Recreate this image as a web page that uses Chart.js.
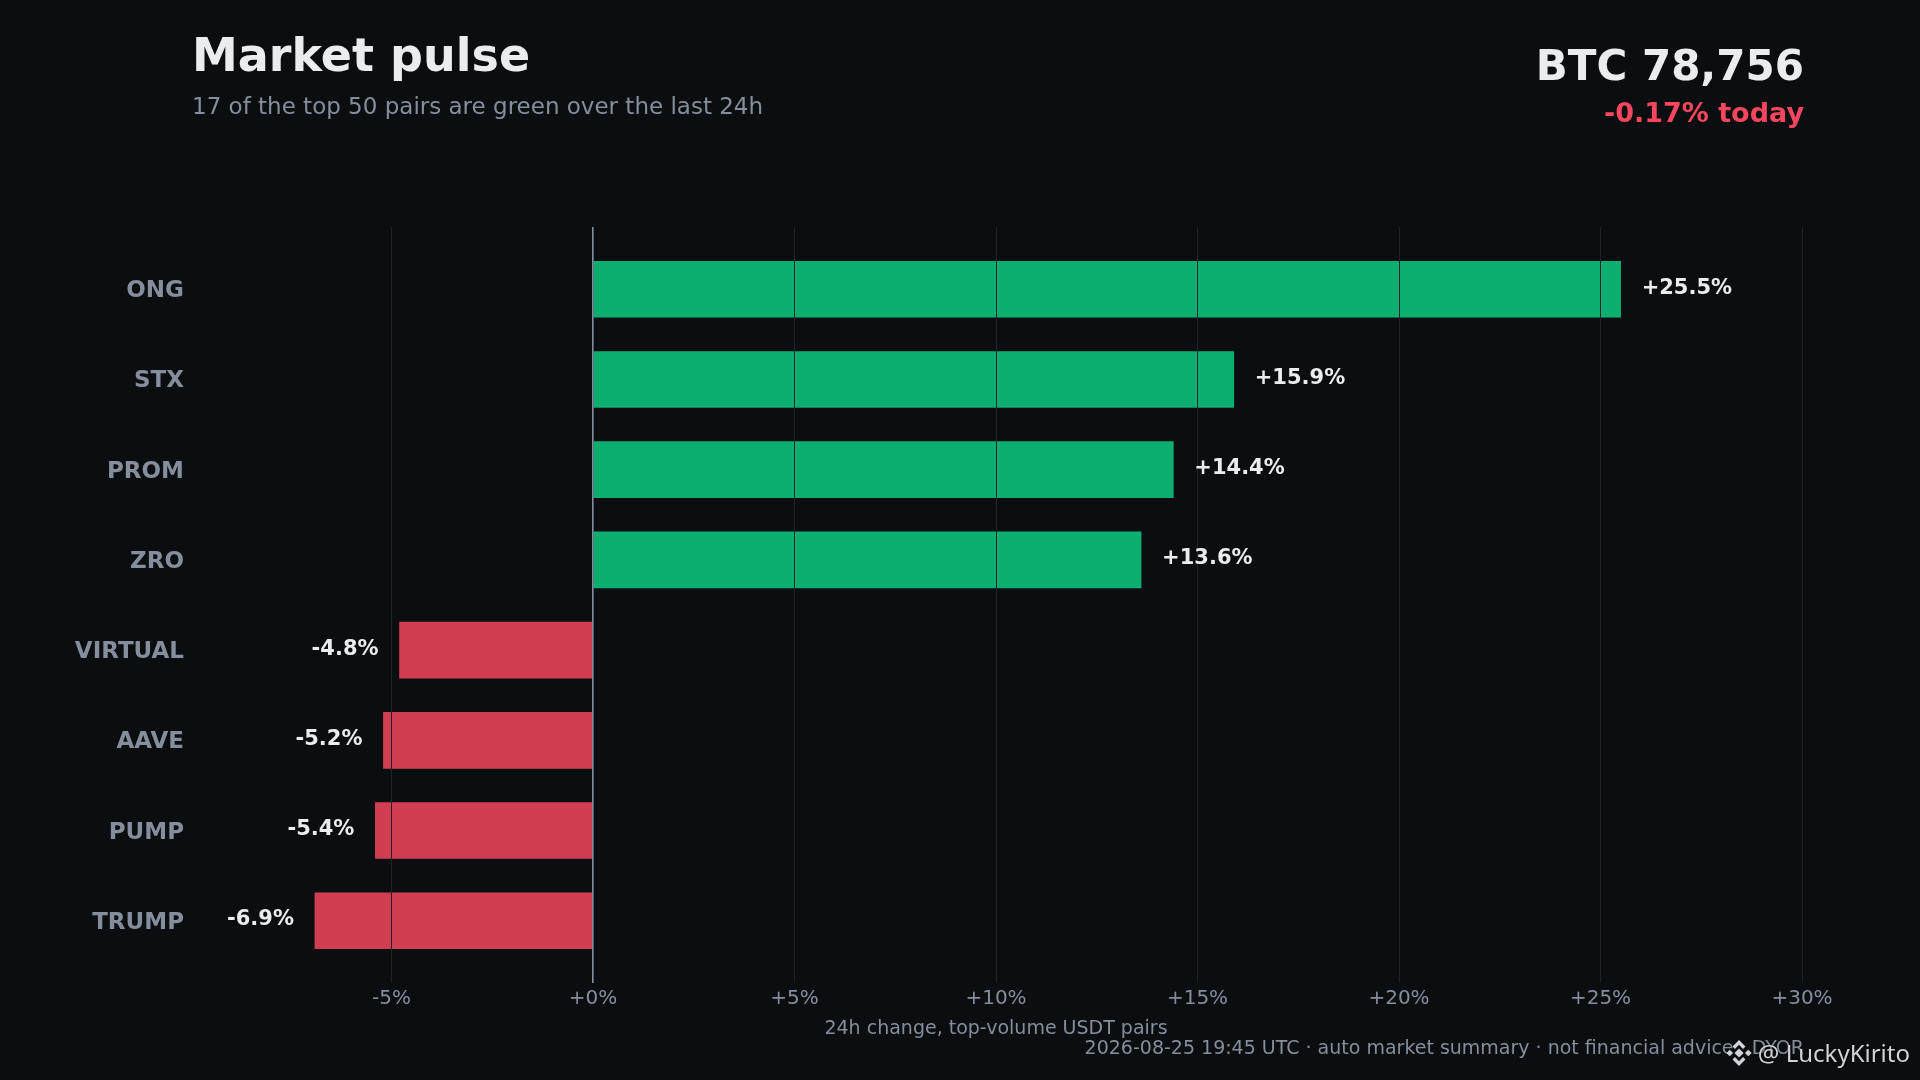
<!DOCTYPE html>
<html><head><meta charset="utf-8">
<script src="https://cdn.jsdelivr.net/npm/chart.js@4.4.1/dist/chart.umd.min.js"></script>
<style>
html,body{margin:0;padding:0;background:#0b0e11;}
#wrap{position:relative;width:1920px;height:1080px;background:#0b0e11;overflow:hidden;font-family:"DejaVu Sans",sans-serif;}
#c{position:absolute;left:0;top:0;width:1920px;height:1080px;}
.t{position:absolute;white-space:nowrap;}
</style></head><body>
<div id="wrap">
<canvas id="c" width="1920" height="1080"></canvas>
<div class="t" style="left:192px;top:27px;font-size:46px;line-height:56px;font-weight:bold;color:#eaecef;">Market pulse</div>
<div class="t" style="left:192px;top:92px;font-size:23px;line-height:28px;color:#848e9c;">17 of the top 50 pairs are green over the last 24h</div>
<div class="t" style="right:116px;top:41px;font-size:42px;line-height:50px;font-weight:bold;color:#eaecef;text-align:right;">BTC 78,756</div>
<div class="t" style="right:116px;top:96px;font-size:27px;line-height:33px;font-weight:bold;color:#f6465d;text-align:right;">-0.17% today</div>
<div class="t" style="right:116px;top:1036px;font-size:19px;line-height:22px;color:#848e9c;text-align:right;">2026-08-25 19:45 UTC · auto market summary · not financial advice · DYOR</div>
<div class="t" style="right:10px;top:1039px;font-size:24px;line-height:28px;color:#d0d4da;font-family:'Noto Sans',sans-serif;display:flex;align-items:center;gap:5px;text-shadow:0 0 2px #000;">
<svg width="28" height="28" viewBox="0 0 26 26"><g fill="#d0d4da"><rect x="10" y="10" width="6" height="6" transform="rotate(45 13 13)"/><path d="M13 1 L19 7 L16.8 9.2 L13 5.4 L9.2 9.2 L7 7 Z"/><path d="M13 25 L7 19 L9.2 16.8 L13 20.6 L16.8 16.8 L19 19 Z"/><rect x="2.2" y="10.8" width="4.4" height="4.4" transform="rotate(45 4.4 13)"/><rect x="19.4" y="10.8" width="4.4" height="4.4" transform="rotate(45 21.6 13)"/></g></svg><span>@ LuckyKirito</span></div>
</div>
<script>
const categories = ['ONG','STX','PROM','ZRO','VIRTUAL','AAVE','PUMP','TRUMP'];
const changes = [25.5, 15.9, 14.4, 13.6, -4.8, -5.2, -5.4, -6.9];
const xTickValues = [-5, 0, 5, 10, 15, 20, 25, 30];
const axisTitle = '24h change, top-volume USDT pairs';

const GREEN = 'rgba(14,203,129,0.85)';
const RED = 'rgba(246,70,93,0.85)';
const GRAY = '#848e9c';
const FONT = '"DejaVu Sans", sans-serif';

function fmt(v){ return (v > 0 ? '+' : '') + v.toFixed(1) + '%'; }

const valueLabels = {
  id: 'valueLabels',
  afterDraw(chart){
    const ctx = chart.ctx;
    const meta = chart.getDatasetMeta(0);
    ctx.save();
    ctx.font = 'bold 21px ' + FONT;
    ctx.fillStyle = '#eaecef';
    ctx.textBaseline = 'middle';
    meta.data.forEach((bar, i) => {
      const v = changes[i];
      if (v >= 0) { ctx.textAlign = 'left'; ctx.fillText(fmt(v), bar.x + 21, bar.y - 1); }
      else { ctx.textAlign = 'right'; ctx.fillText(fmt(v), bar.x - 21, bar.y - 1); }
    });
    ctx.restore();
  }
};

new Chart(document.getElementById('c'), {
  type: 'bar',
  data: {
    datasets: [{
      data: changes.map((v, i) => ({ x: v, y: i })),
      backgroundColor: changes.map(v => v >= 0 ? GREEN : RED),
      borderWidth: 0,
      barThickness: 56
    }]
  },
  options: {
    indexAxis: 'y',
    responsive: false,
    animation: false,
    devicePixelRatio: 1,
    layout: { padding: { left: 0, top: 227, right: 118, bottom: 40 } },
    plugins: { legend: { display: false }, tooltip: { enabled: false } },
    scales: {
      x: {
        type: 'linear',
        min: -10,
        max: 30,
        afterBuildTicks: s => { s.ticks = xTickValues.map(v => ({ value: v })); },
        afterFit: s => { s.height = 57; },
        ticks: {
          callback: v => (v >= 0 ? '+' : '') + v + '%',
          color: GRAY,
          font: { family: FONT, size: 20 },
          padding: 4,
          maxRotation: 0,
          autoSkip: false
        },
        grid: {
          color: c => (c.tick && c.tick.value === 0) ? GRAY : '#1e2329',
          lineWidth: c => (c.tick && c.tick.value === 0) ? 1.6 : 1,
          drawTicks: false,
          z: 1
        },
        border: { display: false },
        title: {
          display: true,
          text: axisTitle,
          color: GRAY,
          font: { family: FONT, size: 19 },
          padding: 0
        }
      },
      y: {
        type: 'linear',
        reverse: true,
        offset: false,
        min: -0.69,
        max: 7.69,
        afterBuildTicks: s => { s.ticks = categories.map((_, i) => ({ value: i })); },
        afterFit: s => { s.width = 190; },
        ticks: {
          callback: v => categories[v],
          color: GRAY,
          font: { family: FONT, size: 23, weight: 'bold' },
          padding: 6,
          labelOffset: 2,
          autoSkip: false
        },
        grid: { display: false, drawTicks: false },
        border: { display: false }
      }
    }
  },
  plugins: [valueLabels]
});
</script>
</body></html>
